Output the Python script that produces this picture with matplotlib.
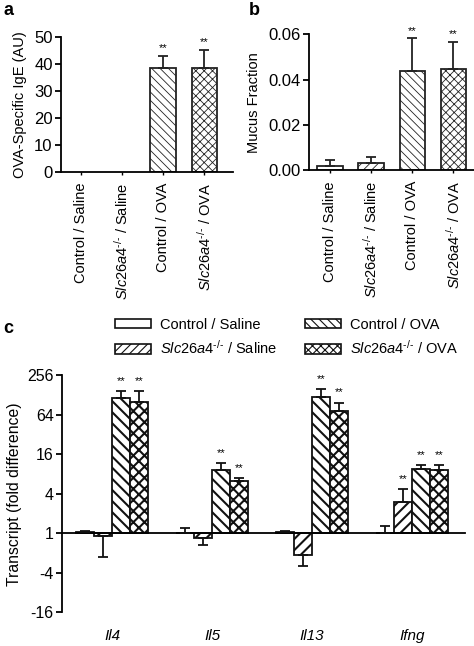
import numpy as np
import matplotlib
matplotlib.use("Agg")
import matplotlib.pyplot as plt
from matplotlib.patches import Patch
import matplotlib.transforms as mtransforms

plt.rcParams['font.family'] = ['Liberation Sans', 'DejaVu Sans']
plt.rcParams['mathtext.fontset'] = 'custom'
plt.rcParams['mathtext.rm'] = 'Liberation Sans'
plt.rcParams['mathtext.it'] = 'Liberation Sans:italic'

# ---- data ----
SLC = r"$\mathit{Slc26a4}^{\text{-/-}}$"
groups_ab = ["Control / Saline", SLC + " / Saline", "Control / OVA", SLC + " / OVA"]
ige = [0, 0, 38.5, 38.7]
ige_err = [0, 0, 4.5, 6.6]
mucus = [0.0019, 0.0029, 0.0438, 0.0445]
mucus_err = [0.0025, 0.0027, 0.0144, 0.0122]
sig_ab = ["", "", "**", "**"]

genes = ["Il4", "Il5", "Il13", "Ifng"]
series_c = ["Control / Saline", SLC + " / Saline", "Control / OVA", SLC + " / OVA"]
# log2 fold difference
ctrl_saline = [0.05, 0.02, 0.05, 0.02]
ctrl_saline_err = [0.05, 0.25, 0.05, 0.32]
slc_saline = [-0.12, -0.27, -1.1, 1.57]
slc_saline_err = [1.07, 0.33, 0.56, 0.68]
ctrl_ova = [6.88, 3.23, 6.93, 3.25]
ctrl_ova_err = [0.31, 0.35, 0.40, 0.20]
slc_ova = [6.67, 2.65, 6.20, 3.20]
slc_ova_err = [0.52, 0.16, 0.43, 0.25]
sig_c = [["", "", "**", "**"], ["", "", "**", "**"],
         ["", "", "**", "**"], ["", "**", "**", "**"]]
ytick_c = [8, 6, 4, 2, 0, -2, -4]
ytick_c_labels = ["256", "64", "16", "4", "1", "-4", "-16"]

W, H = 474, 646
fig = plt.figure(figsize=(W / 100, H / 100), dpi=100)

def fax(l, t, r, b):
    return fig.add_axes([l / W, 1 - b / H, (r - l) / W, (b - t) / H])

hatches_ab = ["", "////", "\\\\\\\\", "xxxx"]

def panel_ab(ax, vals, errs, ylim, yticks, yfmt, ylabel, xlim):
    x = np.arange(len(vals))
    for i in range(len(vals)):
        if vals[i] > 0:
            ax.bar(x[i], vals[i], width=0.62, color="white", edgecolor="#222222",
                   linewidth=1.3, hatch=hatches_ab[i], zorder=2)
            ax.errorbar(x[i], vals[i], yerr=[[0], [errs[i]]], fmt="none",
                        ecolor="#222222", elinewidth=1.3, capsize=3.6, capthick=1.3, zorder=3)
        if sig_ab[i]:
            ax.text(x[i], vals[i] + errs[i] + (ylim[1] - ylim[0]) * 0.02, sig_ab[i],
                    ha="center", va="bottom", fontsize=8)
    ax.set_xlim(*xlim)
    ax.set_ylim(*ylim)
    ax.set_yticks(yticks)
    ax.set_yticklabels([yfmt.format(v) for v in yticks], fontsize=12)
    ax.set_xticks(x)
    ax.set_xticklabels(groups_ab, rotation=90, fontsize=10.5)
    ax.tick_params(axis="x", length=2, width=1, pad=6)
    ax.tick_params(axis="y", length=4, width=1.3, pad=2)
    for s in ["top", "right"]:
        ax.spines[s].set_visible(False)
    for s in ["left", "bottom"]:
        ax.spines[s].set_linewidth(1.3)
    ax.set_ylabel(ylabel, fontsize=10.5, labelpad=5)

plt.rcParams['hatch.linewidth'] = 0.6
plt.rcParams['hatch.color'] = '#333333'
axa = fax(61, 37.3, 233, 171.7)
panel_ab(axa, ige, ige_err, (0, 50), [0, 10, 20, 30, 40, 50], "{:.0f}",
         "OVA-Specific IgE (AU)", (-0.49, 3.7))
axb = fax(308.7, 34.3, 474, 170)
panel_ab(axb, mucus, mucus_err, (0, 0.06), [0, 0.02, 0.04, 0.06], "{:.2f}",
         "Mucus Fraction", (-0.52, 3.5))

fig.text(3 / W, 1 - 15 / H, "a", fontsize=13, fontweight="bold")
fig.text(249 / W, 1 - 15 / H, "b", fontsize=13, fontweight="bold")
fig.text(3 / W, 1 - 333 / H, "c", fontsize=13, fontweight="bold")

# ---- panel c ----
plt.rcParams['hatch.linewidth'] = 1.5
plt.rcParams['hatch.color'] = '#111111'
axc = fax(62, 375.5, 465, 612)
vals_c = [ctrl_saline, slc_saline, ctrl_ova, slc_ova]
errs_c = [ctrl_saline_err, slc_saline_err, ctrl_ova_err, slc_ova_err]
hatches_c = ["", "///", "\\\\\\", "xxx"]
bw = 0.18
offs = [-1.5 * bw, -0.5 * bw, 0.5 * bw, 1.5 * bw]
xg = np.arange(len(genes))
for s in range(4):
    for g in range(len(genes)):
        v = vals_c[s][g]
        e = errs_c[s][g]
        xx = xg[g] + offs[s]
        axc.bar(xx, v, width=bw, color="white", edgecolor="#111111",
                linewidth=1.3, hatch=hatches_c[s], zorder=2)
        yerr = [[0], [e]] if v >= 0 else [[e], [0]]
        axc.errorbar(xx, v, yerr=yerr, fmt="none", ecolor="#111111",
                     elinewidth=1.3, capsize=3.6, capthick=1.3, zorder=3)
        if sig_c[g][s]:
            axc.text(xx, v + e + 0.25, sig_c[g][s], ha="center", va="bottom", fontsize=8)

axc.set_xlim(-0.5, 3.53)
axc.set_ylim(-4, 8)
axc.set_yticks(ytick_c)
axc.set_yticklabels(ytick_c_labels, fontsize=11.5)
axc.set_xticks([])
axc.tick_params(axis="y", length=4, width=1.3, pad=2)
for s in ["top", "right"]:
    axc.spines[s].set_visible(False)
axc.spines["bottom"].set_position(("data", 0))
axc.spines["bottom"].set_linewidth(1.3)
axc.spines["left"].set_linewidth(1.3)
axc.set_ylabel("Transcript (fold difference)", fontsize=11.3)
trans = mtransforms.blended_transform_factory(axc.transData, axc.transAxes)
for g, name in enumerate(genes):
    axc.text(xg[g], -0.10, name, transform=trans, ha="center", va="center",
             fontsize=11, style="italic")

plt.rcParams['hatch.linewidth'] = 0.8
handles = [Patch(facecolor="white", edgecolor="#111111", hatch=h, linewidth=1.2)
           for h in ["", "////", "\\\\\\\\", "xxxx"]]
for col, x0 in [(0, 115), (1, 305)]:
    idx = [col * 2, col * 2 + 1] if False else [col * 2, col * 2 + 1]
    # column 1: Control/Saline, Slc/Saline ; column 2: Control/OVA, Slc/OVA
    idx = [0, 1] if col == 0 else [2, 3]
    fig.legend([handles[i] for i in idx], [series_c[i] for i in idx],
               ncol=1, loc="upper left", bbox_to_anchor=(x0 / W, 1 - 318 / H),
               frameon=False, fontsize=10.5, handlelength=2.5, handleheight=0.6,
               labelspacing=0.5, handletextpad=0.6, borderaxespad=0, borderpad=0)

fig.savefig("out.png", dpi=100)
